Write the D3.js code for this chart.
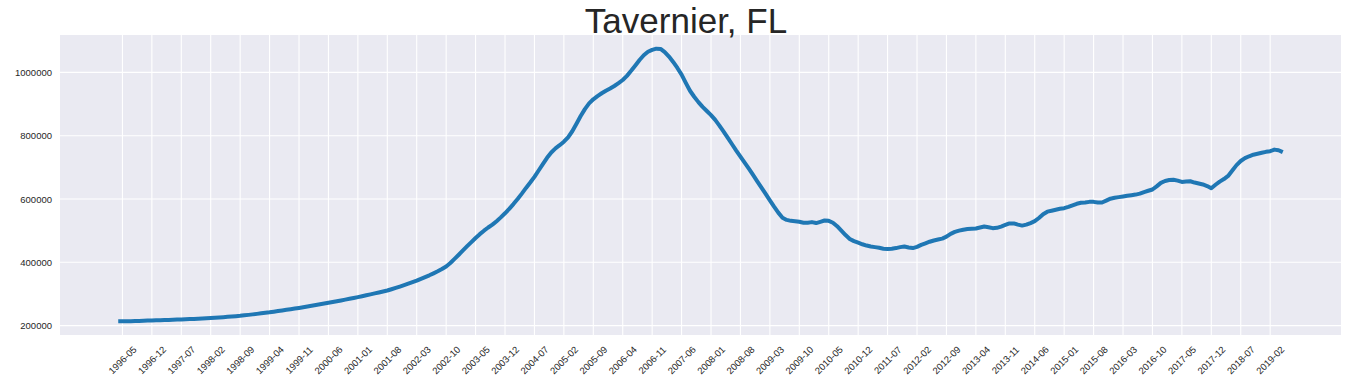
<!DOCTYPE html>
<html>
<head>
<meta charset="utf-8">
<script src="https://cdn.jsdelivr.net/npm/d3@7"></script>
<style>
  body { margin: 0; background: #fff; }
  text { font-family: "Liberation Sans", Arial, sans-serif; fill: #262626; }
  .grid line { stroke: #fff; stroke-width: 1.1; }
</style>
</head>
<body>
<svg id="chart" width="1349" height="384"></svg>
<script>
var title = "Tavernier, FL";
var firstMonth = "1996-04";

// monthly values, 1996-04 .. 2019-05
var values = [
  213500, 213600, 213900, 214200, 214600, 215000, 215500, 216000, 216500,
  216900, 217300, 217700, 218100, 218500, 219000, 219500, 220100, 220700, 221300, 222000, 222700,
  223300, 224000, 224800, 225700, 226700, 227800, 228900, 230000, 231000, 232500, 234000, 235600,
  237200, 238800, 240400, 242000, 244000, 246000, 248000, 250000, 252000, 254000, 256000, 258300,
  260600, 263000, 265300, 267600, 269800, 272000, 274500, 277000, 279600, 282200, 284800, 287400,
  290000, 292900, 295800, 298800, 301800, 304900, 308000, 311000, 315000, 319200, 323500, 327900,
  332500, 337200, 342000, 347500, 353200, 359000, 365200, 371600, 378800, 387000, 398000, 411000,
  424000, 437500, 451000, 464000, 477000, 489000, 500000, 510000, 519000, 530000, 542000, 555000,
  569000, 584000, 600000, 617000, 635000, 652000, 670000, 690000, 710000, 730000, 747000, 760000,
  770000, 781000, 795000, 814000, 838000, 862000, 884000, 902000, 915000, 925000, 934000, 942000,
  949000, 957000, 966000, 976000, 989000, 1005000, 1022000, 1039000, 1054000, 1065000, 1071000, 1075000,
  1074000, 1064000, 1050000, 1033000, 1014000, 993000, 967000, 942000, 923000, 906000, 891000, 878000,
  865000, 850000, 832000, 813000, 793000, 773000, 753000, 734000, 715000, 696000, 676000, 656000,
  636000, 616000, 596000, 576000, 557000, 541000, 534000, 531000, 530000, 528000, 525000, 525000,
  527000, 524000, 528000, 532000, 531000, 525000, 514000, 500000, 486000, 474000, 467000, 462000,
  457000, 453000, 450000, 448000, 446000, 443000, 442000, 443000, 445000, 448000, 450000, 447000,
  445000, 449000, 455000, 460000, 465000, 469000, 472000, 475000, 481000, 490000, 496000, 500000,
  503000, 505000, 506000, 507000, 510000, 513000, 511000, 508000, 509000, 513000, 518000, 523000,
  523000, 519000, 516000, 519000, 524000, 530000, 540000, 552000, 560000, 563000, 566000, 569000,
  571000, 575000, 580000, 585000, 588000, 589000, 591000, 591000, 589000, 589000, 595000, 601000,
  604000, 606000, 608000, 610000, 612000, 614000, 617000, 622000, 626000, 630000, 640000, 651000,
  657000, 660000, 661000, 658000, 654000, 655000, 656000, 652000, 649000, 646000, 641000, 634000,
  645000, 655000, 663000, 673000, 690000, 707000, 720000, 729000, 735000, 740000, 743000, 746000,
  749000, 751000, 756000, 754000, 748000
];

var tickLabels = [
  "1996-05", "1996-12", "1997-07", "1998-02", "1998-09", "1999-04", "1999-11", "2000-06",
  "2001-01", "2001-08", "2002-03", "2002-10", "2003-05", "2003-12", "2004-07", "2005-02",
  "2005-09", "2006-04", "2006-11", "2007-06", "2008-01", "2008-08", "2009-03", "2009-10",
  "2010-05", "2010-12", "2011-07", "2012-02", "2012-09", "2013-04", "2013-11", "2014-06",
  "2015-01", "2015-08", "2016-03", "2016-10", "2017-05", "2017-12", "2018-07", "2019-02"
];

var yTicks = [200000, 400000, 600000, 800000, 1000000];

var parseMonth = d3.utcParse("%Y-%m"),
    fmtMonth = d3.utcFormat("%Y-%m"),
    start = parseMonth(firstMonth),
    months = d3.utcMonth.range(start, d3.utcMonth.offset(start, values.length)).map(fmtMonth);

var svg = d3.select("#chart"),
    margin = {top: 35, right: 8, bottom: 49, left: 60},
    width = +svg.attr("width") - margin.left - margin.right,
    height = +svg.attr("height") - margin.top - margin.bottom;

// matplotlib style 5% margins
var n = values.length - 1,
    vMin = d3.min(values), vMax = d3.max(values), vPad = (vMax - vMin) * 0.05;

var x = d3.scaleLinear().domain([-0.05 * n, n * 1.05]).range([0, width]),
    y = d3.scaleLinear().domain([vMin - vPad, vMax + vPad]).range([height, 0]);

var g = svg.append("g")
    .attr("transform", "translate(" + margin.left + "," + margin.top + ")");

g.append("rect")
    .attr("width", width)
    .attr("height", height)
    .attr("fill", "#eaeaf2");

var tickIdx = tickLabels.map(function(l) { return months.indexOf(l); });

g.append("g")
    .attr("class", "grid")
    .selectAll("line")
    .data(tickIdx)
    .enter().append("line")
      .attr("x1", function(d) { return x(d); })
      .attr("x2", function(d) { return x(d); })
      .attr("y1", 0)
      .attr("y2", height);

g.append("g")
    .attr("class", "grid")
    .selectAll("line")
    .data(yTicks)
    .enter().append("line")
      .attr("x1", 0)
      .attr("x2", width)
      .attr("y1", function(d) { return y(d); })
      .attr("y2", function(d) { return y(d); });

var yAxis = g.append("g")
    .call(d3.axisLeft(y).tickValues(yTicks).tickFormat(d3.format("d")).tickSize(0).tickPadding(8));
yAxis.select(".domain").remove();
yAxis.selectAll("text")
    .style("font-size", "9.5px")
    .attr("fill", "#262626");

g.append("g")
    .selectAll("text")
    .data(tickLabels)
    .enter().append("text")
      .attr("transform", function(d, i) {
        return "translate(" + x(tickIdx[i]) + "," + (height + 25) + ") rotate(-45)";
      })
      .attr("text-anchor", "middle")
      .attr("dominant-baseline", "central")
      .style("font-size", "9.5px")
      .text(function(d) { return d; });

var line = d3.line()
    .x(function(d, i) { return x(i); })
    .y(function(d) { return y(d); });

g.append("path")
    .datum(values)
    .attr("fill", "none")
    .attr("stroke", "#1f77b4")
    .attr("stroke-width", 4)
    .attr("stroke-linejoin", "round")
    .attr("d", line);

svg.append("text")
    .attr("x", 686)
    .attr("y", 33)
    .attr("text-anchor", "middle")
    .style("font-size", "35px")
    .text(title);
</script>
</body>
</html>
